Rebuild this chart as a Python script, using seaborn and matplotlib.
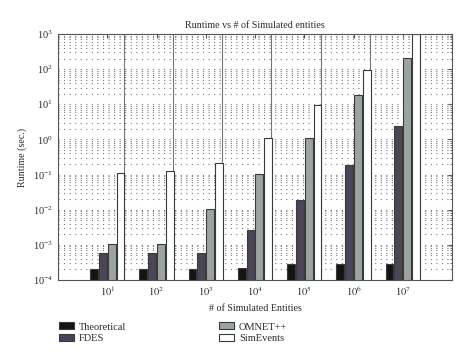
import numpy as np
import pandas as pd
import matplotlib
matplotlib.use("Agg")
import matplotlib.pyplot as plt
import seaborn as sns
from matplotlib.patches import Patch
from matplotlib.ticker import LogLocator, NullFormatter

sizes = ["$10^{1}$", "$10^{2}$", "$10^{3}$", "$10^{4}$", "$10^{5}$", "$10^{6}$", "$10^{7}$"]
methods = ["Theoretical", "FDES", "OMNET++", "SimEvents"]
theoretical = [2.1e-4, 2.1e-4, 2.1e-4, 2.2e-4, 2.8e-4, 2.8e-4, 2.8e-4]
fdes = [5.8e-4, 5.8e-4, 5.8e-4, 2.6e-3, 1.9e-2, 0.19, 2.4]
omnet = [1.05e-3, 1.05e-3, 1.05e-2, 0.105, 1.1, 18, 205]
simevents = [0.11, 0.13, 0.21, 1.1, 9.3, 93, 1000]
colors = ["#141414", "#4a4258", "#9aa5a0", "#ffffff"]

df = pd.DataFrame({
    "n": sizes * 4,
    "runtime": theoretical + fdes + omnet + simevents,
    "method": sum([[m] * len(sizes) for m in methods], []),
})

sns.set_style("white")
plt.rcParams["font.family"] = ["Liberation Serif", "DejaVu Serif"]
plt.rcParams["mathtext.fontset"] = "stix"
txt = "#2b2b2b"

fig = plt.figure(figsize=(4.74, 3.64), dpi=100)
ax = fig.add_axes([58 / 474, 1 - 280 / 364, 394 / 474, 246 / 364])
ax.set_yscale("log")
sns.barplot(data=df, x="n", y="runtime", hue="method", order=sizes, hue_order=methods,
            palette=dict(zip(methods, colors)), width=0.72, gap=0.11,
            edgecolor="#3a3a3a", linewidth=0.8, errorbar=None, legend=False, ax=ax)

ax.set_ylim(1e-4, 1e3)
ax.set_xlim(-1, 7)

# grid
ax.yaxis.set_major_locator(LogLocator(base=10, numticks=20))
ax.yaxis.set_minor_locator(LogLocator(base=10, subs=np.arange(2, 10), numticks=20))
ax.yaxis.set_minor_formatter(NullFormatter())
ax.grid(True, which="both", axis="y", color="#7a7a7a", linestyle=(0, (1.0, 4.0)), linewidth=0.8)
ax.set_axisbelow(True)
for k in range(len(sizes)):
    ax.axvline(k + 0.33, color="#767676", linewidth=0.8, zorder=0.5)

for s in ax.spines.values():
    s.set_color("#555555")
    s.set_linewidth(0.8)
ax.tick_params(axis="both", which="both", direction="in", top=True, right=True,
               colors="#555555", labelcolor=txt, labelsize=7.5)
ax.tick_params(axis="both", which="major", length=3)
ax.tick_params(axis="y", which="minor", length=1.8)

ax.set_title("Runtime vs # of Simulated entities", fontsize=7.2, color=txt, pad=4)
ax.set_xlabel("# of Simulated Entities", fontsize=7.2, color=txt, labelpad=4)
ax.set_ylabel("Runtime (sec.)", fontsize=7.2, color=txt, labelpad=4)

handles = [Patch(facecolor=c, edgecolor="#3a3a3a", linewidth=0.8) for c in colors]
fig.legend(handles, methods, loc="upper left", bbox_to_anchor=(50 / 474, 1 - 313 / 364),
           ncol=2, frameon=False, fontsize=7.5, handlelength=1.4, handleheight=0.65,
           handletextpad=0.5, columnspacing=8.9, labelspacing=0.25, labelcolor=txt)

fig.savefig("out.png", dpi=100, facecolor="white")
